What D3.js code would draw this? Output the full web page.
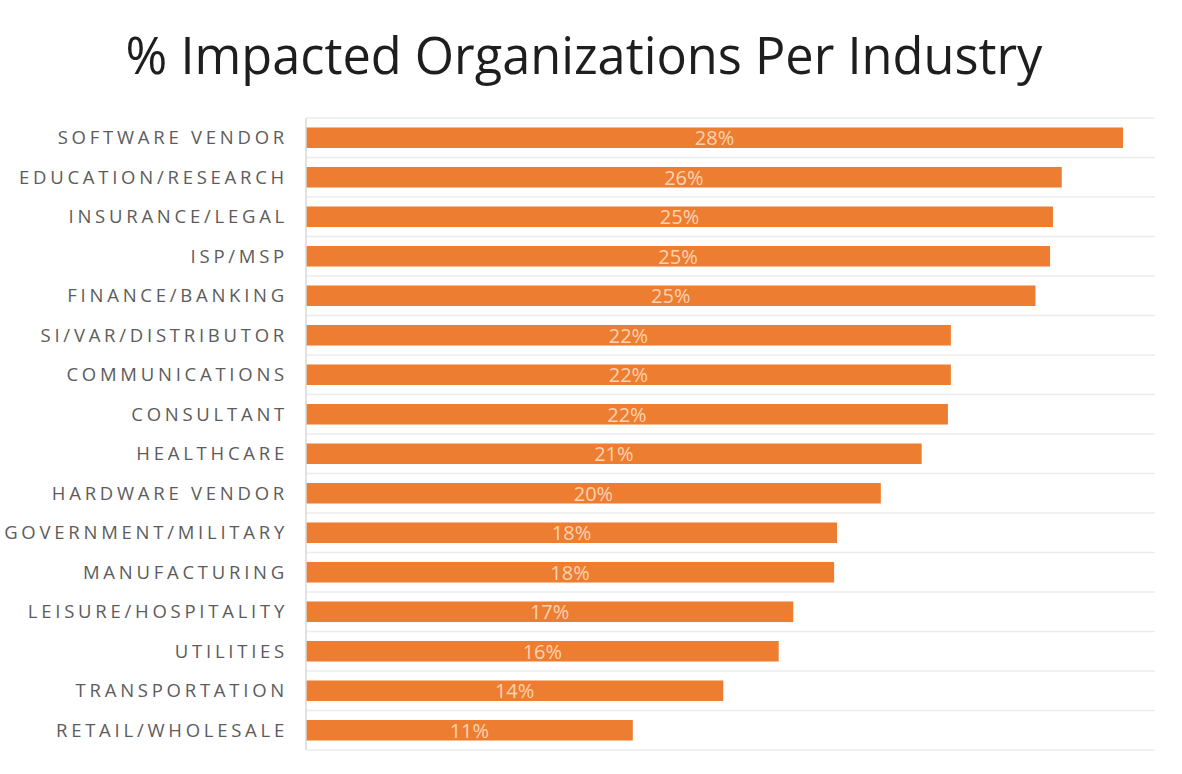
<!DOCTYPE html>
<html>
<head>
<meta charset="utf-8">
<script src="https://d3js.org/d3.v7.min.js"></script>
<style>
  body { margin: 0; background: #fff; }
  svg { display: block; }
</style>
</head>
<body>
<div id="chart"></div>
<script>
const industries = [
    "SOFTWARE VENDOR", "EDUCATION/RESEARCH", "INSURANCE/LEGAL", "ISP/MSP",
    "FINANCE/BANKING", "SI/VAR/DISTRIBUTOR", "COMMUNICATIONS", "CONSULTANT",
    "HEALTHCARE", "HARDWARE VENDOR", "GOVERNMENT/MILITARY", "MANUFACTURING",
    "LEISURE/HOSPITALITY", "UTILITIES", "TRANSPORTATION", "RETAIL/WHOLESALE"
];
const percentImpacted = [
    28.0, 25.9, 25.6, 25.5, 25.0, 22.1, 22.1, 22.0,
    21.1, 19.7, 18.2, 18.1, 16.7, 16.2, 14.3, 11.2
];
const valueLabels = [
    "28%", "26%", "25%", "25%", "25%", "22%", "22%", "22%",
    "21%", "20%", "18%", "18%", "17%", "16%", "14%", "11%"
];

const data = industries.map((name, i) => ({name, value: percentImpacted[i], label: valueLabels[i]}));

const boxWidth = 1182, boxHeight = 774;
const margins = {l: 306, r: 27, t: 118, b: 24};
const chartWidth = boxWidth - margins.l - margins.r;
const chartHeight = boxHeight - margins.t - margins.b;

const svg = d3.select("#chart").append("svg")
    .attr("width", boxWidth)
    .attr("height", boxHeight);

// title
svg.append("text")
    .attr("x", 584)
    .attr("y", 74)
    .attr("text-anchor", "middle")
    .style("font-family", "'Open Sans', sans-serif")
    .style("font-size", "50.5px")
    .style("fill", "#1e1e1e")
    .text("% Impacted Organizations Per Industry");

const g = svg.append("g")
    .attr("transform", `translate(${margins.l},${margins.t})`);

const x = d3.scaleLinear().domain([0, 28]).range([0, 817]);
const y = d3.scaleBand().domain(industries).range([0, chartHeight]).paddingInner(0.48).paddingOuter(0.24);

// gridlines on band boundaries
const step = y.step();
g.selectAll(".grid")
    .data(d3.range(industries.length + 1))
    .enter().append("line")
    .attr("class", "grid")
    .attr("x1", 0)
    .attr("x2", 849)
    .attr("y1", d => d * step)
    .attr("y2", d => d * step)
    .style("stroke", "#ececec")
    .style("stroke-width", 1.5);

g.selectAll(".bar")
    .data(data)
    .enter().append("rect")
    .attr("class", "bar")
    .attr("x", 0)
    .attr("y", d => y(d.name))
    .attr("width", d => x(d.value))
    .attr("height", y.bandwidth())
    .style("fill", "#ed7d31");

// y axis line
g.append("line")
    .attr("x1", 0).attr("x2", 0)
    .attr("y1", 0).attr("y2", chartHeight)
    .style("stroke", "#d9d9d9")
    .style("stroke-width", 1.5);

// category labels
g.selectAll(".cat")
    .data(data)
    .enter().append("text")
    .attr("class", "cat")
    .attr("x", -18)
    .attr("y", d => y(d.name) + y.bandwidth() / 2)
    .attr("dy", "0.36em")
    .attr("text-anchor", "end")
    .style("font-family", "'Open Sans', sans-serif")
    .style("font-size", "18.5px")
    .style("letter-spacing", "3.75px")
    .style("fill", "#5c5c5c")
    .text(d => d.name);

// value labels
g.selectAll(".val")
    .data(data)
    .enter().append("text")
    .attr("class", "val")
    .attr("x", d => x(d.value) / 2)
    .attr("y", d => y(d.name) + y.bandwidth() / 2)
    .attr("dy", "0.38em")
    .attr("text-anchor", "middle")
    .style("font-family", "'Liberation Sans Narrow', 'Open Sans', sans-serif")
    .style("font-size", "20px")
    .style("fill", "#fbd3b1")
    .text(d => d.label);
</script>
</body>
</html>
